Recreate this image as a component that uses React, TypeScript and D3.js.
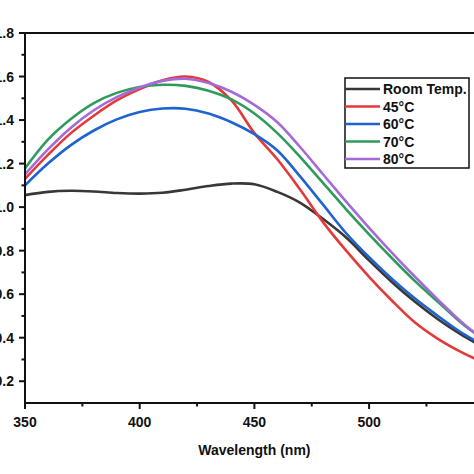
import React from "react";
import * as d3 from "d3";

const wavelengths = [350, 360, 370, 380, 390, 400, 410, 420, 430, 440, 450, 460, 470, 480, 490, 500, 510, 520, 530, 540, 550];

const roomTemp = [1.055, 1.07, 1.075, 1.072, 1.065, 1.062, 1.066, 1.08, 1.097, 1.108, 1.105, 1.07, 1.02, 0.945, 0.86, 0.755, 0.655, 0.565, 0.485, 0.415, 0.355];
const temp45 = [1.13, 1.24, 1.34, 1.42, 1.49, 1.542, 1.583, 1.6, 1.575, 1.49, 1.34, 1.22, 1.08, 0.93, 0.8, 0.68, 0.57, 0.47, 0.395, 0.335, 0.285];
const temp60 = [1.1, 1.2, 1.285, 1.352, 1.403, 1.437, 1.453, 1.452, 1.43, 1.39, 1.335, 1.26, 1.14, 1.01, 0.88, 0.77, 0.67, 0.58, 0.5, 0.425, 0.365];
const temp70 = [1.178, 1.31, 1.405, 1.478, 1.525, 1.552, 1.562, 1.557, 1.535, 1.495, 1.43, 1.34, 1.23, 1.11, 0.99, 0.875, 0.765, 0.66, 0.565, 0.47, 0.39];
const temp80 = [1.15, 1.265, 1.365, 1.445, 1.505, 1.55, 1.58, 1.59, 1.57, 1.53, 1.47, 1.39, 1.275, 1.15, 1.025, 0.905, 0.79, 0.68, 0.575, 0.475, 0.39];

const seriesNames = ["Room Temp.", "45°C", "60°C", "70°C", "80°C"];
const seriesColors = ["#383838", "#e23a3a", "#1e63cf", "#2e9b5c", "#a66ad8"];
const seriesValues = [roomTemp, temp45, temp60, temp70, temp80];

const xMajor = [350, 400, 450, 500];
const xMinor = [375, 425, 475, 525];
const yMajor = [0.2, 0.4, 0.6, 0.8, 1.0, 1.2, 1.4, 1.6, 1.8];
const yMinor = [0.3, 0.5, 0.7, 0.9, 1.1, 1.3, 1.5, 1.7];

const W = 474;
const H = 474;
const FONT = "'Liberation Sans', Arial, sans-serif";

export default function App() {
  const x = d3.scaleLinear().domain([350, 550]).range([25, 483.8]);
  const y = d3.scaleLinear().domain([0.1, 1.8]).range([403, 33]);

  const line = d3
    .line<number>()
    .x((d, i) => x(wavelengths[i]))
    .y((d) => y(d))
    .curve(d3.curveCatmullRom.alpha(0.5));

  const left = x.range()[0];
  const bottom = y.range()[0];
  const top = y.range()[1];

  return (
    <svg
      width={W}
      height={H}
      style={{ position: "absolute", left: 0, top: 0, background: "#fff" }}
      fontFamily={FONT}
      fontWeight="bold"
    >
      {seriesValues.map((vals, i) => (
        <path key={seriesNames[i]} d={line(vals) || ""} fill="none" stroke={seriesColors[i]} strokeWidth={2.6} />
      ))}

      {/* frame */}
      <line x1={left} x2={W + 10} y1={top} y2={top} stroke="#111" strokeWidth={2} />
      <line x1={left} x2={W + 10} y1={bottom} y2={bottom} stroke="#111" strokeWidth={2} />
      <line x1={left} x2={left} y1={top - 1} y2={bottom + 1} stroke="#111" strokeWidth={2} />

      {/* x ticks */}
      {xMajor.map((t) => (
        <g key={t} transform={`translate(${x(t)},${bottom})`}>
          <line y1={0} y2={6} stroke="#111" strokeWidth={2} />
          <text y={24} textAnchor="middle" fontSize={14} fill="#111">{t}</text>
        </g>
      ))}
      {xMinor.map((t) => (
        <line key={t} x1={x(t)} x2={x(t)} y1={bottom} y2={bottom + 3.5} stroke="#111" strokeWidth={2} />
      ))}

      {/* y ticks */}
      {yMajor.map((t) => (
        <g key={t} transform={`translate(${left},${y(t)})`}>
          <line x1={0} x2={-6} stroke="#111" strokeWidth={2} />
          <text x={-11} dy="0.36em" textAnchor="end" fontSize={14} fill="#111">{t.toFixed(1)}</text>
        </g>
      ))}
      {yMinor.map((t) => (
        <line key={t} x1={left} x2={left - 3.5} y1={y(t)} y2={y(t)} stroke="#111" strokeWidth={2} />
      ))}

      <text x={x(450)} y={455} textAnchor="middle" fontSize={14} fill="#111">Wavelength (nm)</text>

      {/* legend */}
      <rect x={345} y={78} width={124} height={90} fill="#fff" stroke="#111" strokeWidth={1.5} />
      {seriesNames.map((name, i) => (
        <g key={name} transform={`translate(345,${89 + i * 17.5})`}>
          <line x1={0} x2={35} stroke={seriesColors[i]} strokeWidth={2.6} />
          <text x={38} dy="0.36em" fontSize={14} fill="#111">{name}</text>
        </g>
      ))}
    </svg>
  );
}
